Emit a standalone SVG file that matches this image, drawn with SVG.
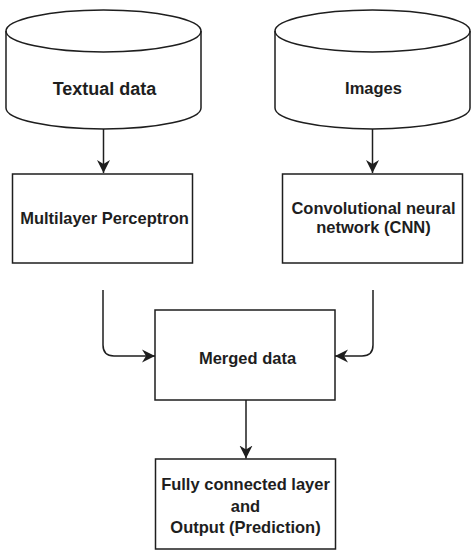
<svg xmlns="http://www.w3.org/2000/svg" width="474" height="551" viewBox="0 0 474 551">
  <style>
    .shape { fill: #ffffff; stroke: #1e1e1e; stroke-width: 1.5; }
    .edge { fill: none; stroke: #1e1e1e; stroke-width: 1.5; }
    .lbl { font-family: "Liberation Sans", Arial, Helvetica, sans-serif; font-weight: bold; font-size: 16.5px; fill: #1e1e1e; text-anchor: middle; }
  </style>
  <defs>
    <marker id="arrow" markerUnits="userSpaceOnUse" viewBox="0 0 14 14" markerWidth="14" markerHeight="14" refX="13" refY="7" orient="auto">
      <path d="M0,0.5 L13,7 L0,13.5 L4,7 Z" fill="#1e1e1e"/>
    </marker>
  </defs>
  <rect width="474" height="551" fill="#ffffff"/>

  <g id="textual-data">
    <path class="shape" d="M6,31 A97.5,21 0 0 1 201,31 L201,108 A97.5,21 0 0 1 6,108 Z"/>
    <path class="edge" d="M6,31 A97.5,21 0 0 0 201,31"/>
    <text class="lbl" x="104.5" y="95" style="font-size:18px">Textual data</text>
  </g>

  <g id="images">
    <path class="shape" d="M275,31 A97.5,21 0 0 1 470,31 L470,108 A97.5,21 0 0 1 275,108 Z"/>
    <path class="edge" d="M275,31 A97.5,21 0 0 0 470,31"/>
    <text class="lbl" x="373.5" y="94">Images</text>
  </g>

  <g id="mlp">
    <rect class="shape" x="12.5" y="174" width="180" height="89"/>
    <text class="lbl" x="104.5" y="224">Multilayer Perceptron</text>
  </g>

  <g id="cnn">
    <rect class="shape" x="282.5" y="174" width="180" height="89"/>
    <text class="lbl" x="373.5" y="213.5">Convolutional neural</text>
    <text class="lbl" x="373.5" y="232.5">network (CNN)</text>
  </g>

  <g id="merged">
    <rect class="shape" x="155" y="310" width="180" height="90"/>
    <text class="lbl" x="247.5" y="363.5">Merged data</text>
  </g>

  <g id="output">
    <rect class="shape" x="155.5" y="459" width="180" height="90"/>
    <text class="lbl" x="245.5" y="490">Fully connected layer</text>
    <text class="lbl" x="245.5" y="511.5">and</text>
    <text class="lbl" x="245.5" y="532.5">Output (Prediction)</text>
  </g>

  <g id="connectors">
    <path class="edge" d="M103.5,129 L103.5,173" marker-end="url(#arrow)"/>
    <path class="edge" d="M372.5,129 L372.5,173" marker-end="url(#arrow)"/>
    <path class="edge" d="M103,290 L103,345 Q103,356 114,356 L155,356" marker-end="url(#arrow)"/>
    <path class="edge" d="M373,290 L373,345 Q373,356 362,356 L335,356" marker-end="url(#arrow)"/>
    <path class="edge" d="M246,400 L246,458.5" marker-end="url(#arrow)"/>
  </g>
</svg>
